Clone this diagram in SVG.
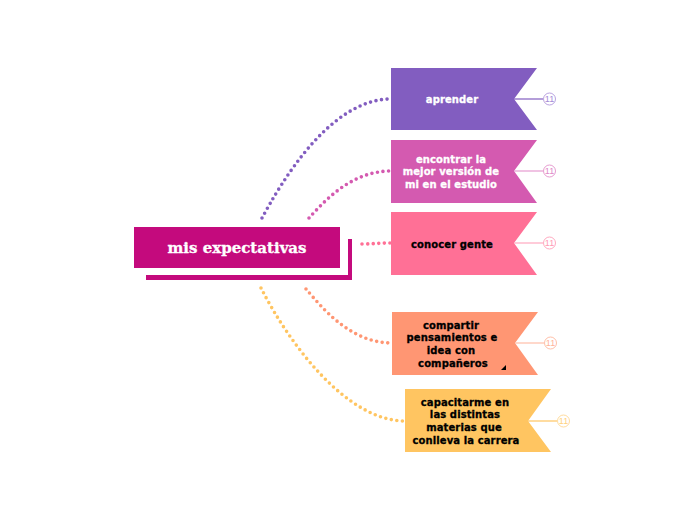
<svg xmlns="http://www.w3.org/2000/svg" width="697" height="520" viewBox="0 0 697 520">
<style>
.c{fill:none;stroke-width:3.6;stroke-linecap:round;stroke-dasharray:0 5.6}
.s{fill:none;stroke-width:1.2}
.b{fill:#fff;stroke-width:1}
.t{font:800 10px "DejaVu Sans",sans-serif;text-anchor:middle;letter-spacing:.1px;stroke-width:.3}
.n{font:9px "Liberation Sans Narrow","Liberation Sans",sans-serif;text-anchor:middle}
.h{font:bold 15px "DejaVu Serif",serif;text-anchor:middle;fill:#fff;stroke:#fff;stroke-width:.3}
</style>
<rect width="697" height="520" fill="#fff"/>
<g id="connectors">
<path class="c" stroke="#825dc0" d="M262 218C280 185 329 99 391 99"/>
<path class="c" stroke="#d45ab0" d="M309 218C323 203 350 171 391 171"/>
<path class="c" stroke="#ff7096" d="M362 244C372 244 380 243 391 243"/>
<path class="c" stroke="#ff9673" d="M306 289C320 305 349 343 392 343"/>
<path class="c" stroke="#ffc561" d="M261 288C290 345 347 421 405 421"/>
</g>
<g id="root">
<path d="M146 275H348V239H352V280H146Z" fill="#c40a7d"/>
<rect x="134" y="227" width="206" height="41" fill="#c40a7d"/>
<text class="h" x="237" y="253">mis expectativas</text>
</g>
<g id="n1">
<path d="M391 68H537L514 99L537 130H391Z" fill="#825dc0"/>
<path class="s" stroke="#825dc0" d="M514 99H543"/>
<circle class="b" stroke="#b9a2e0" cx="549.500" cy="99" r="6"/>
<text class="n" x="549.500" y="102.200" fill="#a58bd6">11</text>
<text class="t" x="452" y="103" fill="#fff" stroke="#fff">aprender</text>
</g>
<g id="n2">
<path d="M391 140H537L514 171L537 203H391Z" fill="#d45ab0"/>
<path class="s" stroke="#e79bd0" d="M514 171H543"/>
<circle class="b" stroke="#e79bd0" cx="549.500" cy="171" r="6"/>
<text class="n" x="549.500" y="174.200" fill="#e08ac8">11</text>
<g class="t" fill="#fff" stroke="#fff"><text x="451" y="163">encontrar la</text><text x="451" y="175">mejor versión de</text><text x="451" y="188">mi en el estudio</text></g>
</g>
<g id="n3">
<path d="M391 212H537L514 243L537 275H391Z" fill="#ff7096"/>
<path class="s" stroke="#ffa9c0" d="M514 243H543"/>
<circle class="b" stroke="#ffa9c0" cx="549.500" cy="243" r="6"/>
<text class="n" x="549.500" y="246.200" fill="#ff9ab5">11</text>
<text class="t" x="452" y="248" fill="#000" stroke="#000">conocer gente</text>
</g>
<g id="n4">
<path d="M392 312H538L515 343L538 375H392Z" fill="#ff9673"/>
<path class="s" stroke="#ffbfa8" d="M515 343H544"/>
<circle class="b" stroke="#ffbfa8" cx="550.500" cy="343" r="6"/>
<text class="n" x="550.500" y="346.200" fill="#ffb399">11</text>
<g class="t" fill="#000" stroke="#000"><text x="451" y="329">compartir</text><text x="452" y="341">pensamientos e</text><text x="451" y="354">idea con</text><text x="453" y="367">compañeros</text></g>
<path d="M506 365V370H501Z" fill="#000"/>
</g>
<g id="n5">
<path d="M405 389H551L528 421L551 452H405Z" fill="#ffc561"/>
<path class="s" stroke="#ffc561" d="M528 421H557"/>
<circle class="b" stroke="#ffdc9e" cx="563.500" cy="421" r="6"/>
<text class="n" x="563.500" y="424.200" fill="#ffd280">11</text>
<g class="t" fill="#000" stroke="#000"><text x="465" y="406">capacitarme en</text><text x="465" y="418">las distintas</text><text x="464" y="431">materias que</text><text x="466" y="444">conlleva la carrera</text></g>
</g>
</svg>
